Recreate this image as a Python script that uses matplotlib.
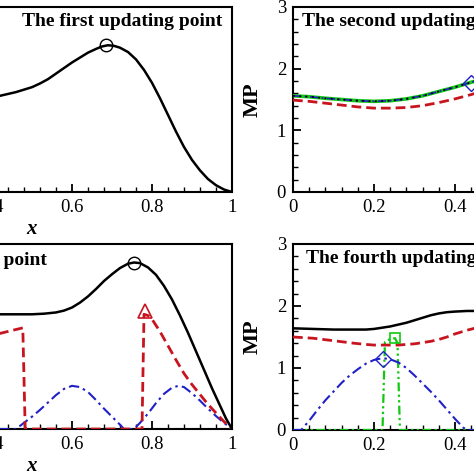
import matplotlib
matplotlib.use("Agg")
import matplotlib.pyplot as plt
from matplotlib.ticker import MultipleLocator, FuncFormatter

plt.rcParams['font.family'] = ['Liberation Serif', 'DejaVu Serif']

# ---------------- data ----------------
# Panel 1: first updating point
p1_black_x = [0.38, 0.40, 0.42, 0.44, 0.46, 0.48, 0.50, 0.52, 0.54, 0.56, 0.58, 0.60, 0.62,
              0.64, 0.66, 0.675, 0.69, 0.705, 0.72, 0.74, 0.76, 0.78, 0.80, 0.82, 0.84,
              0.86, 0.88, 0.90, 0.92, 0.94, 0.96, 0.98, 1.00]
p1_black_y = [1.48, 1.52, 1.56, 1.59, 1.62, 1.66, 1.70, 1.76, 1.83, 1.92, 2.01, 2.10, 2.18,
              2.26, 2.32, 2.36, 2.38, 2.37, 2.34, 2.27, 2.15, 1.98, 1.77, 1.52, 1.25,
              0.98, 0.73, 0.52, 0.35, 0.21, 0.11, 0.04, 0.0]
p1_zero_x = [0.0, 1.0]
p1_zero_y = [0.0, 0.0]
p1_marker = (0.685, 2.38)

# Panel 2: second updating point
p2_x = [0.0, 0.04, 0.08, 0.12, 0.16, 0.20, 0.24, 0.28, 0.32, 0.36, 0.40, 0.44, 0.48, 0.52]
p2_top_y = [1.56, 1.545, 1.52, 1.50, 1.48, 1.47, 1.48, 1.51, 1.56, 1.63, 1.70, 1.78, 1.85, 1.92]
p2_red_y = [1.49, 1.47, 1.44, 1.41, 1.38, 1.36, 1.36, 1.37, 1.40, 1.45, 1.51, 1.58, 1.66, 1.74]
p2_marker = (0.44, 1.77)

# Panel 3: third updating point
p3_black_x = [0.38, 0.42, 0.46, 0.50, 0.53, 0.56, 0.58, 0.60, 0.62, 0.64, 0.66, 0.68, 0.70,
              0.72, 0.74, 0.755, 0.77, 0.79, 0.81, 0.83, 0.85, 0.87, 0.89, 0.91, 0.93,
              0.95, 0.97, 0.985, 1.00]
p3_black_y = [1.86, 1.86, 1.86, 1.86, 1.87, 1.89, 1.92, 1.97, 2.05, 2.15, 2.27, 2.40, 2.51,
              2.61, 2.68, 2.70, 2.69, 2.62, 2.50, 2.32, 2.10, 1.84, 1.56, 1.26, 0.96,
              0.66, 0.38, 0.17, 0.0]
p3_red_x = [0.38, 0.42, 0.445, 0.477, 0.483, 0.60, 0.775, 0.780, 0.79, 0.80, 0.82, 0.84,
            0.86, 0.88, 0.90, 0.92, 0.94, 0.96, 0.98, 1.00]
p3_red_y = [1.50, 1.55, 1.59, 1.64, 0.0, 0.0, 0.0, 1.86, 1.84, 1.78, 1.58, 1.35,
            1.12, 0.90, 0.72, 0.56, 0.40, 0.26, 0.12, 0.0]
p3_blue_x = [0.38, 0.46, 0.48, 0.50, 0.52, 0.54, 0.56, 0.58, 0.60, 0.62, 0.64, 0.66, 0.68,
             0.70, 0.72, 0.73, 0.755, 0.77, 0.79, 0.81, 0.83, 0.85, 0.866, 0.88, 0.90,
             0.92, 0.94, 0.96, 0.98, 1.00]
p3_blue_y = [0.0, 0.0, 0.10, 0.20, 0.31, 0.43, 0.55, 0.65, 0.70, 0.68, 0.60, 0.47, 0.33,
             0.20, 0.07, 0.0, 0.0, 0.10, 0.25, 0.42, 0.57, 0.67, 0.70, 0.68, 0.58,
             0.46, 0.33, 0.21, 0.10, 0.0]
p3_green_x = [0.0, 1.00]
p3_green_y = [0.0, 0.0]
p3_marker_black = (0.755, 2.70)
p3_marker_red = (0.782, 1.91)

# Panel 4: fourth updating point
p4_x = [0.0, 0.05, 0.10, 0.15, 0.18, 0.20, 0.22, 0.24, 0.26, 0.28, 0.30, 0.32, 0.34, 0.36,
        0.38, 0.40, 0.43, 0.46, 0.50]
p4_black_y = [1.64, 1.63, 1.62, 1.62, 1.62, 1.63, 1.65, 1.67, 1.70, 1.73, 1.77, 1.81, 1.85,
              1.88, 1.90, 1.91, 1.92, 1.92, 1.92]
p4_red_y = [1.50, 1.48, 1.44, 1.40, 1.38, 1.37, 1.37, 1.37, 1.37, 1.38, 1.39, 1.41, 1.43,
            1.46, 1.50, 1.55, 1.61, 1.66, 1.70]
p4_blue_x = [0.0, 0.02, 0.04, 0.06, 0.08, 0.10, 0.12, 0.14, 0.16, 0.18, 0.20, 0.222, 0.24,
             0.26, 0.28, 0.30, 0.32, 0.34, 0.36, 0.38, 0.40, 0.42, 0.43, 0.50]
p4_blue_y = [0.0, 0.0, 0.15, 0.32, 0.48, 0.62, 0.76, 0.88, 0.98, 1.07, 1.13, 1.16, 1.14,
             1.09, 1.00, 0.88, 0.75, 0.62, 0.48, 0.33, 0.18, 0.04, 0.0, 0.0]
p4_green_x = [0.0, 0.221, 0.227, 0.24, 0.252, 0.258, 0.264, 0.50]
p4_green_y = [0.0, 0.0, 1.42, 1.47, 1.48, 1.40, 0.0, 0.0]
p4_marker_blue = (0.222, 1.15)
p4_marker_green = (0.252, 1.49)

titles = ["The first updating point", "The second updating point",
          "The third updating point", "The fourth updating point"]

# ---------------- styling ----------------
BLACK = 'black'
RED = '#c8141e'
BLUE = '#2020c8'
GREEN = '#10c810'
red_ls = (0, (3.5, 1.8))
blue_ls = (0, (5, 2, 1.2, 2))
green_ls = (0, (4, 1.5, 1, 1.5, 1, 1.5))

W = H = 474.0
fig = plt.figure(figsize=(4.74, 4.74), dpi=100)


def px_axes(left, top, right, bottom):
    return fig.add_axes([left / W, 1 - bottom / H, (right - left) / W, (bottom - top) / H])


ax1 = px_axes(-168, 7, 232, 192)
ax2 = px_axes(293, 7, 698, 192)
ax3 = px_axes(-168, 244, 232, 429)
ax4 = px_axes(293, 244, 698, 430)

fmt = FuncFormatter(lambda v, p: ('%g' % round(v, 3)))
for ax in (ax1, ax2, ax3, ax4):
    ax.set_xlim(0, 1)
    ax.set_ylim(0, 3)
    ax.xaxis.set_major_locator(MultipleLocator(0.2))
    ax.xaxis.set_minor_locator(MultipleLocator(0.04))
    ax.yaxis.set_major_locator(MultipleLocator(1))
    ax.yaxis.set_minor_locator(MultipleLocator(0.2))
    ax.xaxis.set_major_formatter(fmt)
    ax.yaxis.set_major_formatter(fmt)
    ax.tick_params(which='both', direction='in', labelsize=13.5, width=1.3, pad=5)
    ax.tick_params(which='major', length=6)
    ax.tick_params(which='minor', length=3.5, width=1.0)
    for s in ax.spines.values():
        s.set_linewidth(1.5)
    ax.set_xlabel('x', fontsize=15, fontweight='bold', style='italic', labelpad=2)
    ax.set_ylabel('MP', fontsize=16, fontweight='bold', labelpad=10)

# Panel 1
ax1.plot(p1_zero_x, p1_zero_y, color=GREEN, lw=1.5, ls=green_ls, zorder=2)
ax1.plot(p1_black_x, p1_black_y, color=BLACK, lw=1.8, zorder=4)
ax1.plot(*p1_marker, marker='o', ms=9, mfc='none', mec=BLACK, mew=1.0, zorder=5)
ax1.text(0.475, 0.92, titles[0], transform=ax1.transAxes, fontsize=14, fontweight='bold',
         ha='left', va='center')

# Panel 2
ax2.plot(p2_x, p2_red_y, color=RED, lw=2.0, ls=red_ls, zorder=3)
ax2.plot(p2_x, p2_top_y, color=GREEN, lw=2.6, zorder=3)
ax2.plot(p2_x, p2_top_y, color=BLUE, lw=1.2, ls=blue_ls, zorder=4)
ax2.plot(p2_x, p2_top_y, color=BLACK, lw=1.3, ls=(0, (1, 2.5)), zorder=5)
ax2.plot(*p2_marker, marker='D', ms=8, mfc='none', mec=BLUE, mew=1.0, zorder=6)
ax2.text(0.022, 0.92, titles[1], transform=ax2.transAxes, fontsize=14, fontweight='bold',
         ha='left', va='center')

# Panel 3
ax3.plot(p3_green_x, p3_green_y, color=GREEN, lw=1.5, ls=green_ls, zorder=2)
ax3.plot(p3_blue_x, p3_blue_y, color=BLUE, lw=1.5, ls=blue_ls, zorder=3)
ax3.plot(p3_red_x, p3_red_y, color=RED, lw=2.0, ls=red_ls, zorder=3)
ax3.plot(p3_black_x, p3_black_y, color=BLACK, lw=1.8, zorder=4)
ax3.plot(*p3_marker_black, marker='o', ms=9, mfc='none', mec=BLACK, mew=1.0, zorder=5)
ax3.plot(*p3_marker_red, marker='^', ms=10, mfc='none', mec=RED, mew=1.2, zorder=5)
ax3.text(0.5375, 0.913, titles[2], transform=ax3.transAxes, fontsize=14, fontweight='bold',
         ha='right', va='center')

# Panel 4
ax4.plot(p4_green_x, p4_green_y, color=GREEN, lw=1.6, ls=green_ls, zorder=3)
ax4.plot(p4_blue_x, p4_blue_y, color=BLUE, lw=1.5, ls=blue_ls, zorder=3)
ax4.plot(p4_x, p4_red_y, color=RED, lw=2.0, ls=red_ls, zorder=3)
ax4.plot(p4_x, p4_black_y, color=BLACK, lw=1.8, zorder=4)
ax4.plot(*p4_marker_blue, marker='D', ms=8, mfc='none', mec=BLUE, mew=1.0, zorder=5)
ax4.plot(*p4_marker_green, marker='s', ms=7, mfc='none', mec=GREEN, mew=1.2, zorder=5)
ax4.text(0.032, 0.92, titles[3], transform=ax4.transAxes, fontsize=14, fontweight='bold',
         ha='left', va='center')

fig.savefig('out.png', dpi=100)
